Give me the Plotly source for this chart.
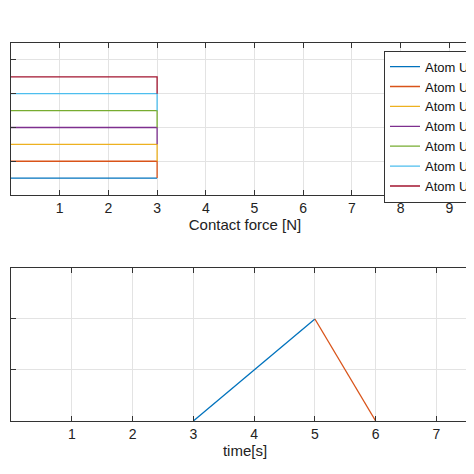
import plotly.graph_objects as go
from plotly.subplots import make_subplots

# 上图: 接触力
atom_names = ["Atom U1", "Atom U2", "Atom U3", "Atom U4", "Atom U5", "Atom U6", "Atom U7"]
atom_levels = [1, 2, 3, 4, 5, 6, 7]
force_x = [0, 3, 3]
colors = ["#0072BD", "#D95319", "#EDB120", "#7E2F8E", "#77AC30", "#4DBEEE", "#A2142F"]

# 下图: 时间
t_up = [3, 5]
v_up = [0, 2]
t_down = [5, 6]
v_down = [2, 0]

fig = make_subplots(rows=2, cols=1)

for name, lvl, c in zip(atom_names, atom_levels, colors):
    if lvl == 1:
        xs, ys = force_x[:2], [lvl, lvl]
    else:
        xs, ys = force_x, [lvl, lvl, lvl - 1]
    fig.add_trace(go.Scatter(x=xs, y=ys, mode="lines", name=name,
                             line=dict(color=c, width=1.3)), row=1, col=1)

fig.add_trace(go.Scatter(x=t_up, y=v_up, mode="lines", showlegend=False,
                         line=dict(color=colors[0], width=1.3)), row=2, col=1)
fig.add_trace(go.Scatter(x=t_down, y=v_down, mode="lines", showlegend=False,
                         line=dict(color=colors[1], width=1.3)), row=2, col=1)

axis_style = dict(showgrid=True, gridcolor="#e3e3e3", showline=True, linecolor="#333",
                  linewidth=1.2, mirror="ticks", ticks="inside", ticklen=5,
                  tickcolor="#333", zeroline=False,
                  tickfont=dict(family="Liberation Sans, Arial", size=14, color="#222"))

fig.update_xaxes(**axis_style)
fig.update_yaxes(**axis_style, showticklabels=False)
fig.update_xaxes(range=[0, 9.61], dtick=1, domain=[0, 1], row=1, col=1,
                 title=dict(text="Contact force [N]", standoff=4,
                            font=dict(family="Liberation Sans, Arial", size=15, color="#222")))
fig.update_yaxes(range=[0, 9], dtick=2, domain=[0.6055, 0.926], row=1, col=1)
fig.update_xaxes(range=[0, 7.7], dtick=1, row=2, col=1,
                 title=dict(text="time[s]", standoff=4,
                            font=dict(family="Liberation Sans, Arial", size=15, color="#222")))
fig.update_yaxes(range=[0, 3], dtick=1, domain=[0.1287, 0.4515], row=2, col=1)

fig.update_layout(
    width=474, height=474,
    margin=dict(l=3, r=0, t=0, b=0),
    plot_bgcolor="white", paper_bgcolor="white",
    legend=dict(x=0.797, y=0.91, xanchor="left", yanchor="top",
                bordercolor="#333", borderwidth=1, bgcolor="white",
                font=dict(family="Liberation Sans, Arial", size=13, color="#111"),
                tracegroupgap=0, itemwidth=30),
)

fig.write_html("out.html")
